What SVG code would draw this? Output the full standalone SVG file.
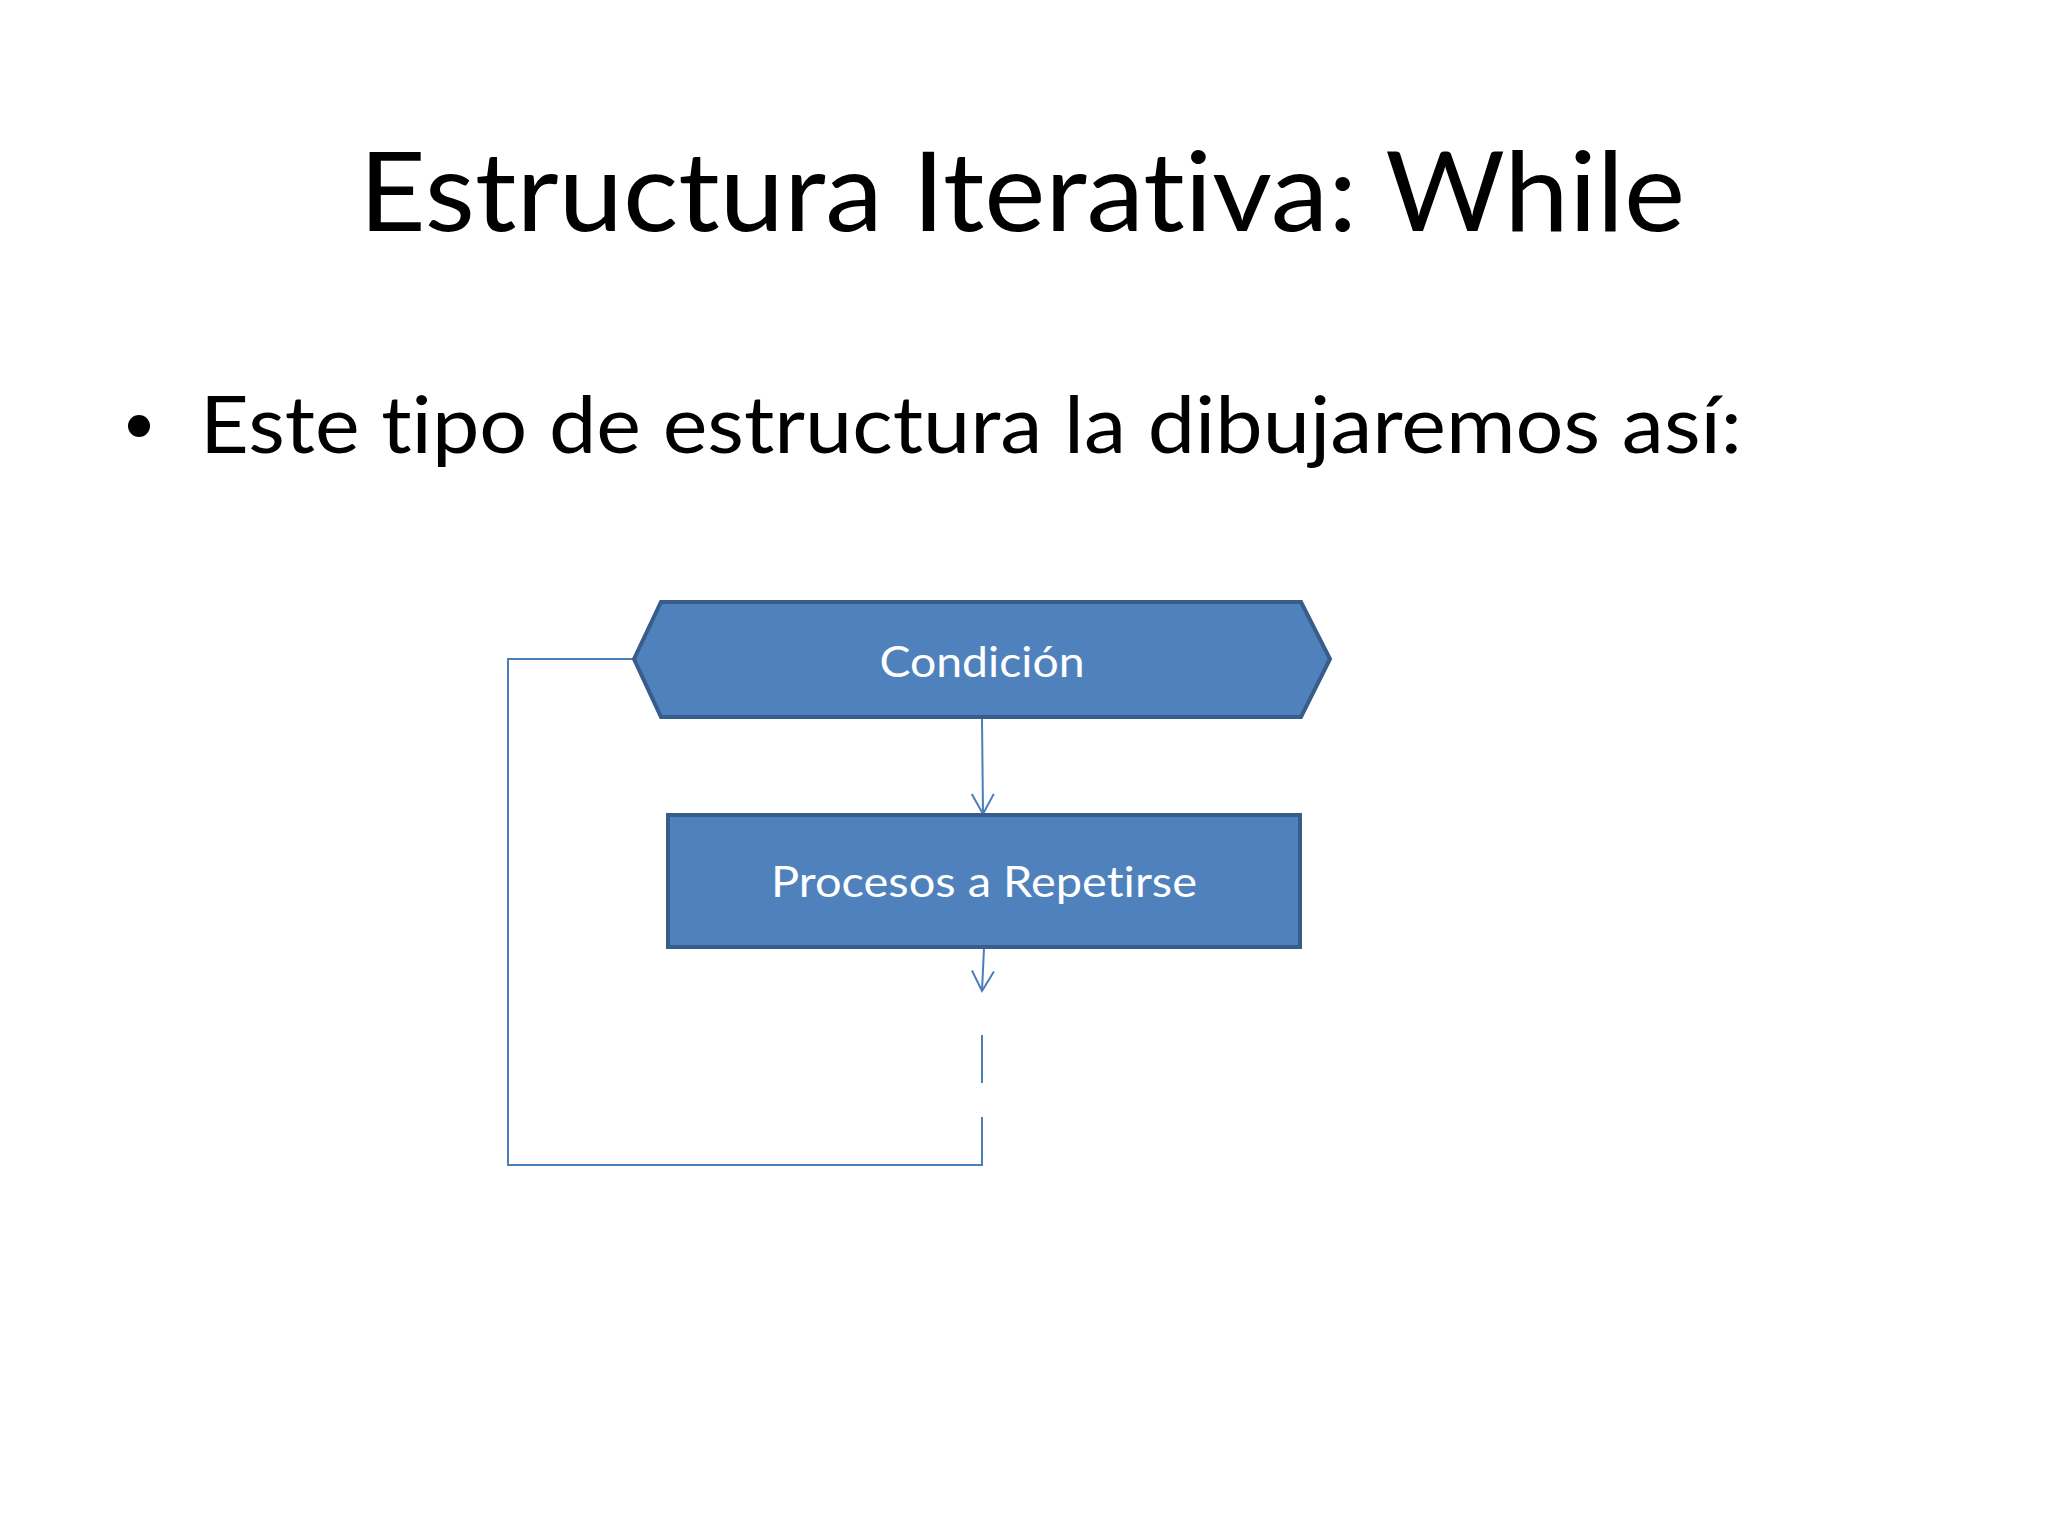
<svg xmlns="http://www.w3.org/2000/svg" width="2048" height="1536" viewBox="0 0 2048 1536">
  <defs>
    <style>
      .title { font-family: Lato, "Open Sans", "Liberation Sans", sans-serif; fill: #000000; font-variant-ligatures: none; }
      .node { fill: #4F81BD; stroke: #385D8A; stroke-width: 4; stroke-linejoin: miter; }
      .label { font-family: Lato, "Open Sans", "Liberation Sans", sans-serif; font-size: 42px; fill: #FFFFFF; text-anchor: middle; font-variant-ligatures: none; }
      .conn { fill: none; stroke: #4A7EBB; stroke-width: 2; }
    </style>
    <marker id="openArrow" markerWidth="24" markerHeight="24" refX="21" refY="12" orient="auto" markerUnits="userSpaceOnUse" viewBox="0 0 24 24">
      <path d="M1,1 L21,12 L1,23" fill="none" stroke="#4A7EBB" stroke-width="2"/>
    </marker>
  </defs>
  <rect x="0" y="0" width="2048" height="1536" fill="#FFFFFF"/>
  <text class="title" x="359" y="231" font-size="110" textLength="1326" lengthAdjust="spacingAndGlyphs">Estructura Iterativa: While</text>
  <circle cx="139" cy="426" r="11" fill="#000000"/>
  <text class="title" x="200" y="453" font-size="80" textLength="1542" lengthAdjust="spacingAndGlyphs">Este tipo de estructura la dibujaremos así:</text>
  <g id="connectors">
    <line class="conn" x1="982" y1="718" x2="983" y2="814" marker-end="url(#openArrow)"/>
    <line class="conn" x1="984" y1="948" x2="982" y2="991" marker-end="url(#openArrow)"/>
    <line class="conn" x1="982" y1="1035" x2="982" y2="1083"/>
    <polyline class="conn" points="982,1117 982,1165 508,1165 508,659 634,659"/>
  </g>
  <g id="node-condicion">
    <polygon class="node" points="634,659 661,602 1301,602 1330,659 1301,717 661,717"/>
    <text class="label" x="982" y="677" textLength="205" lengthAdjust="spacingAndGlyphs">Condición</text>
  </g>
  <g id="node-procesos">
    <rect class="node" x="668" y="815" width="632" height="132"/>
    <text class="label" x="984" y="897" textLength="426" lengthAdjust="spacingAndGlyphs">Procesos a Repetirse</text>
  </g>
</svg>
